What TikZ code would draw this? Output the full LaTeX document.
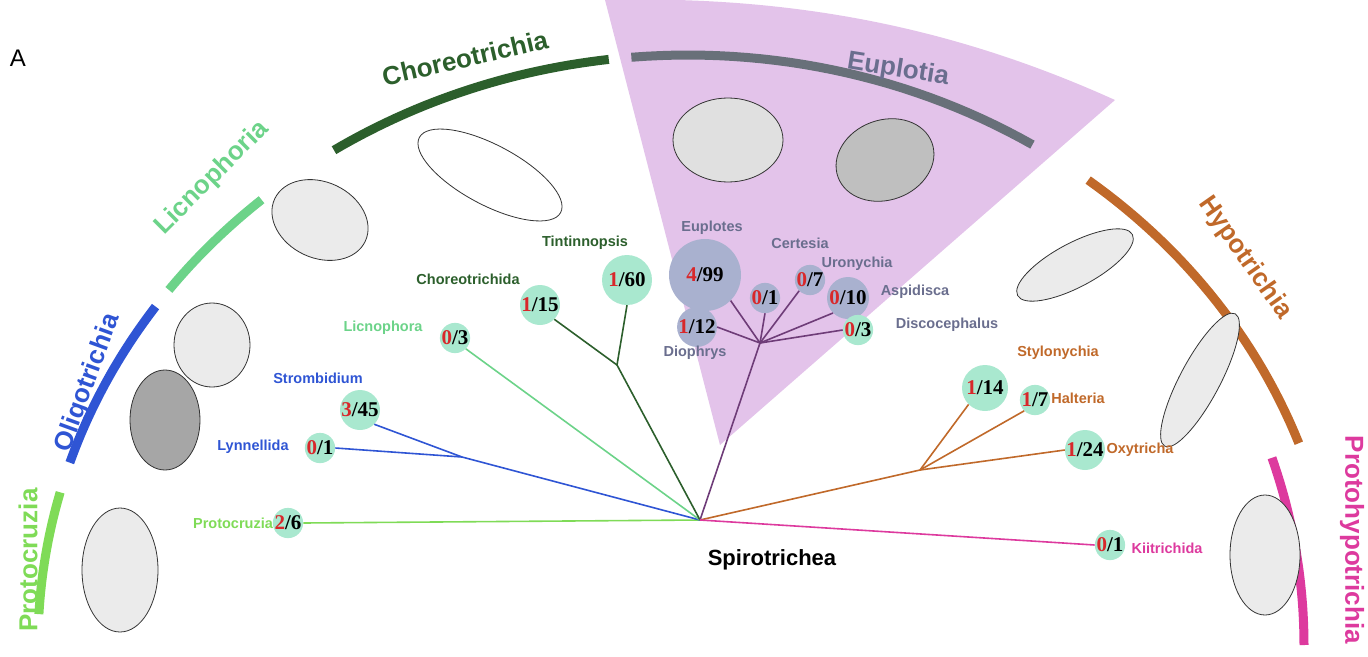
\documentclass[tikz,border=0pt]{standalone}
\usepackage{fontspec}
\setmainfont{Liberation Sans}
\newfontfamily\numfont{Liberation Serif}
\begin{document}
\begin{tikzpicture}[x=1pt,y=-1pt,
  arcline/.style={line width=9pt},
  br/.style={line width=1.6pt},
  cnt/.style={circle,inner sep=0pt,minimum size=#1,font=\numfont\bfseries\fontsize{21}{21}\selectfont},
  gc/.style={fill=gcol},
  bc/.style={fill=bcol},
  lab/.style={font=\bfseries\fontsize{14.5}{14.5}\selectfont},
  big/.style={font=\bfseries\fontsize{26}{26}\selectfont},
  org/.style={draw=black!80,fill=black!8,line width=0.8pt}]
\definecolor{gcol}{HTML}{A9E8CF}
\definecolor{bcol}{HTML}{A9B1CF}
\definecolor{pink}{HTML}{E3C3EA}
\definecolor{cLg}{HTML}{7FDB57}
\definecolor{cOl}{HTML}{2F55D4}
\definecolor{cLi}{HTML}{6CD389}
\definecolor{cCh}{HTML}{2C5F2C}
\definecolor{cEu}{HTML}{687079}
\definecolor{cHy}{HTML}{C0692A}
\definecolor{cPh}{HTML}{DD3A9E}
\definecolor{cEuT}{HTML}{6A6E8E}
\definecolor{cEuB}{HTML}{6E3C78}
\definecolor{numred}{HTML}{D8282B}
\useasboundingbox (0,0) rectangle (1368,656);
% pink wedge
\fill[pink] (720,445) -- (605,0) .. controls (800,-5) and (960,30) .. (1115,100) -- cycle;
% arcs
\draw[arcline,cLg] plot[domain=165:177,samples=30] ({688+650*cos(\x)},{645-590*sin(\x)});
\draw[arcline,cOl] plot[domain=145:162,samples=30] ({688+650*cos(\x)},{645-590*sin(\x)});
\draw[arcline,cLi] plot[domain=131:143,samples=30] ({688+650*cos(\x)},{645-590*sin(\x)});
\draw[arcline,cCh] plot[domain=97:123,samples=30] ({688+650*cos(\x)},{645-590*sin(\x)});
\draw[arcline,cEu] plot[domain=58:95,samples=30] ({688+650*cos(\x)},{645-590*sin(\x)});
\draw[arcline,cHy] plot[domain=20:52,samples=30] ({688+650*cos(\x)},{645-590*sin(\x)});
\draw[arcline,cPh] plot[domain=0:18.5,samples=30] ({684+620*cos(\x)},{645-590*sin(\x)});
% arc labels
\node[big,cLg,rotate=90] (tPc) at (28,560) {Protocruzia};
\node[big,cOl,rotate=70] (tOl) at (88,383) {Oligotrichia};
\node[big,cLi,rotate=45] (tLi) at (212,178) {Licnophoria};
\node[big,cCh,rotate=13] (tCh) at (465,58) {Choreotrichia};
\node[big,cEuT,rotate=-9] (tEu) at (898,70) {Euplotia};
\node[big,cHy,rotate=-55] (tHy) at (1245,258) {Hypotrichia};
\node[big,cPh,rotate=-90] (tPh) at (1352,540) {Protohypotrichia};
\node[font=\fontsize{24}{24}\selectfont] (A) at (18,58) {A};
% organisms (schematic)
\draw[org] (120,570) ellipse (38 and 62);
\draw[org,fill=black!35] (165,420) ellipse (35 and 50);
\draw[org] (212,345) ellipse (38 and 42);
\draw[org,rotate around={-25:(320,220)}] (320,220) ellipse (50 and 38);
\draw[org,fill=white,rotate around={-28:(490,175)}] (490,175) ellipse (80 and 30);
\draw[org,fill=black!12] (728,140) ellipse (55 and 42);
\draw[org,fill=black!25,rotate around={20:(885,160)}] (885,160) ellipse (50 and 40);
\draw[org,rotate around={28:(1075,265)}] (1075,265) ellipse (65 and 22);
\draw[org,rotate around={62:(1200,380)}] (1200,380) ellipse (75 and 20);
\draw[org] (1265,555) ellipse (35 and 60);
% root
\coordinate (root) at (700,520);
\node[font=\bfseries\fontsize{22}{22}\selectfont] (sp) at (772,560) {Spirotrichea};
% internal nodes
\coordinate (jEu) at (760,343);
\coordinate (jCh) at (617,365);
\coordinate (jOl) at (462,457);
\coordinate (jHy) at (920,470);
% count circles
\node[cnt=72pt,bc] (Eup) at (705,275) {\textcolor{numred}{4}/99};
\node[cnt=30pt,bc] (Cer) at (765,298) {\textcolor{numred}{0}/1};
\node[cnt=30pt,bc] (Uro) at (810,280) {\textcolor{numred}{0}/7};
\node[cnt=42pt,bc] (Asp) at (848,298) {\textcolor{numred}{0}/10};
\node[cnt=26pt,gc] (Dis) at (858,330) {\textcolor{numred}{0}/3};
\node[cnt=30pt,bc] (Dio) at (697,327) {\textcolor{numred}{1}/12};
\node[cnt=50pt,gc] (Tin) at (627,280) {\textcolor{numred}{1}/60};
\node[cnt=40pt,gc] (Cho) at (540,305) {\textcolor{numred}{1}/15};
\node[cnt=30pt,gc] (Lic) at (455,338) {\textcolor{numred}{0}/3};
\node[cnt=40pt,gc] (Str) at (360,410) {\textcolor{numred}{3}/45};
\node[cnt=30pt,gc] (Lyn) at (320,448) {\textcolor{numred}{0}/1};
\node[cnt=28pt,gc] (Pro) at (288,523) {\textcolor{numred}{2}/6};
\node[cnt=46pt,gc] (Sty) at (985,388) {\textcolor{numred}{1}/14};
\node[cnt=30pt,gc] (Hal) at (1035,400) {\textcolor{numred}{1}/7};
\node[cnt=40pt,gc] (Oxy) at (1085,450) {\textcolor{numred}{1}/24};
\node[cnt=30pt,gc] (Kii) at (1110,545) {\textcolor{numred}{0}/1};
% branches
\draw[br,cLg] (root) -- (Pro.east);
\draw[br,cOl] (root) -- (jOl) -- (Str.south east);
\draw[br,cOl] (jOl) -- (Lyn.east);
\draw[br,cLi] (root) -- (Lic.south east);
\draw[br,cCh] (root) -- (jCh) -- (Tin.south);
\draw[br,cCh] (jCh) -- (Cho.south east);
\begin{scope}[br,cEuB]
\draw (root) -- (jEu);
\draw (jEu) -- (Eup.south east);
\draw (jEu) -- (Cer.south);
\draw (jEu) -- (Uro.south west);
\draw (jEu) -- (Asp.south west);
\draw (jEu) -- (Dis.west);
\draw (jEu) -- (Dio.east);
\end{scope}
\draw[br,cHy] (root) -- (jHy) -- (Sty.south west);
\draw[br,cHy] (jHy) -- (Hal.south west);
\draw[br,cHy] (jHy) -- (Oxy.west);
\draw[br,cPh] (root) -- (Kii.west);
% taxon labels
\node[lab,cEuT] (lEup) at (712,228) {Euplotes};
\node[lab,cEuT] (lCer) at (800,243) {Certesia};
\node[lab,cEuT] (lUro) at (857,264) {Uronychia};
\node[lab,cEuT] (lAsp) at (915,292) {Aspidisca};
\node[lab,cEuT] (lDis) at (947,325) {Discocephalus};
\node[lab,cEuT] (lDio) at (695,353) {Diophrys};
\node[lab,cCh] (lTin) at (585,243) {Tintinnopsis};
\node[lab,cCh] (lCho) at (468,279) {Choreotrichida};
\node[lab,cLi] (lLic) at (383,328) {Licnophora};
\node[lab,cOl] (lStr) at (318,378) {Strombidium};
\node[lab,cOl] (lLyn) at (253,447) {Lynnellida};
\node[lab,cLg] (lPro) at (233,523) {Protocruzia};
\node[lab,cHy] (lSty) at (1058,353) {Stylonychia};
\node[lab,cHy] (lHal) at (1078,398) {Halteria};
\node[lab,cHy] (lOxy) at (1140,450) {Oxytricha};
\node[lab,cPh] (lKii) at (1167,548) {Kiitrichida};
\end{tikzpicture}
\end{document}
